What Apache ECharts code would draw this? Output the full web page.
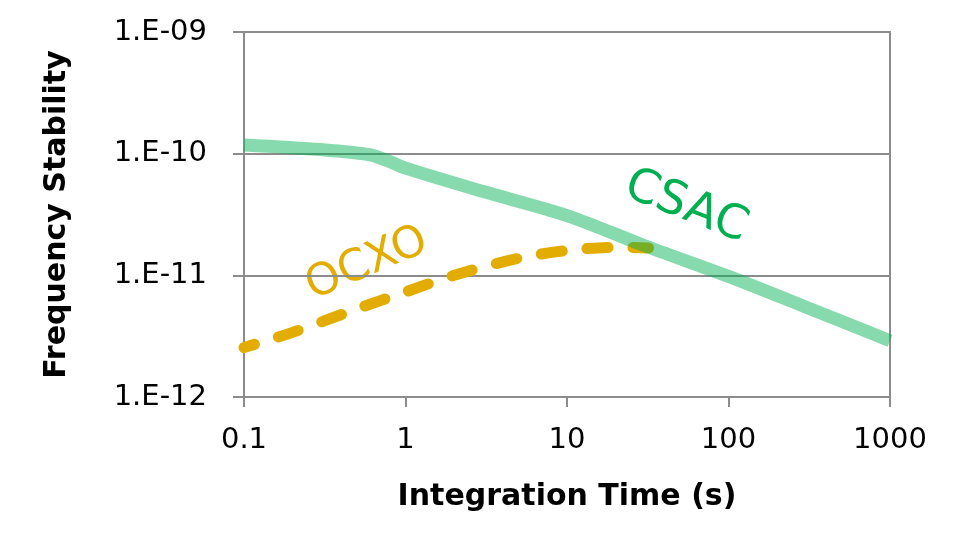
<!DOCTYPE html>
<html>
<head>
<meta charset="utf-8">
<script src="https://cdn.jsdelivr.net/npm/echarts@6/dist/echarts.min.js"></script>
<style>
  html, body { margin: 0; padding: 0; background: #fff; }
  #chart { width: 960px; height: 539px; }
</style>
</head>
<body>
<div id="chart"></div>
<script>
// 数据：积分时间 (s) 与频率稳定度
const csacTime = [0.1, 0.3, 0.6, 0.8, 1, 3, 10, 30, 100, 300, 1000]
const csacValue = [1.18e-10, 1.08e-10, 9.8e-11, 8.6e-11, 7.6e-11, 4.9e-11, 3.1e-11, 1.76e-11, 9.8e-12, 5.5e-12, 2.9e-12]
const ocxoTime = [0.1, 0.2, 0.5, 1, 2, 5, 10, 20, 32]
const ocxoValue = [2.55e-12, 3.4e-12, 5.3e-12, 7.3e-12, 1.0e-11, 1.38e-11, 1.6e-11, 1.7e-11, 1.68e-11]
const xTicks = [0.1, 1, 10, 100, 1000]

const font = '"DejaVu Sans", sans-serif'
const gray = '#8c8c8c'

const pairs = (xs, ys) => xs.map((x, i) => [x, ys[i]])

const chart = echarts.init(document.getElementById('chart'))
const options = {
  animation: false,
  grid: {
    left: 244, right: 70, top: 32, bottom: 142,
    show: true, borderColor: gray, borderWidth: 2
  },
  xAxis: {
    type: 'log',
    logBase: 10,
    min: 0.1,
    max: 1000,
    name: 'Integration Time (s)',
    nameLocation: 'middle',
    nameGap: 85,
    nameTextStyle: { fontFamily: font, fontWeight: 'bold', fontSize: 30, color: '#000' },
    axisLine: { lineStyle: { color: gray, width: 2 } },
    axisTick: { show: true, length: 10, lineStyle: { color: gray, width: 2 } },
    minorTick: { show: false },
    splitLine: { show: false },
    axisLabel: {
      fontFamily: font, fontSize: 29, color: '#000', margin: 29,
      formatter: v => String(xTicks.find(t => Math.abs(Math.log10(t) - Math.log10(v)) < 1e-6) ?? v)
    }
  },
  yAxis: {
    type: 'log',
    logBase: 10,
    min: 1e-12,
    max: 1e-9,
    name: 'Frequency Stability',
    nameLocation: 'middle',
    nameGap: 172,
    nameRotate: 90,
    nameTextStyle: { fontFamily: font, fontWeight: 'bold', fontSize: 30, color: '#000' },
    axisLine: { show: true, lineStyle: { color: gray, width: 2 } },
    axisTick: { show: true, length: 11, lineStyle: { color: gray, width: 2 } },
    splitLine: { show: true, lineStyle: { color: gray, width: 2 } },
    axisLabel: {
      fontFamily: font, fontSize: 29, color: '#000', margin: 37,
      formatter: v => {
        const e = Math.round(Math.log10(v))
        return '1.E' + (e < 0 ? '-' : '+') + String(Math.abs(e)).padStart(2, '0')
      }
    }
  },
  series: [
    {
      name: 'OCXO',
      type: 'line',
      data: pairs(ocxoTime, ocxoValue),
      smooth: 0.3,
      showSymbol: false,
      z: 2,
      lineStyle: { color: '#e2ac00', width: 11, type: [21, 25], dashOffset: 10, cap: 'round' }
    },
    {
      name: 'CSAC',
      type: 'line',
      data: pairs(csacTime, csacValue),
      smooth: 0.3,
      showSymbol: false,
      z: 3,
      lineStyle: { color: '#00b050', opacity: 0.47, width: 13 }
    }
  ],
  graphic: [
    {
      type: 'text', x: 367, y: 264, rotation: 23 * Math.PI / 180,
      style: { text: 'OCXO', fill: '#e2ac00', fontFamily: font, fontSize: 44, align: 'center', verticalAlign: 'middle' }
    },
    {
      type: 'text', x: 686, y: 207, rotation: -21.5 * Math.PI / 180,
      style: { text: 'CSAC', fill: '#00b050', fontFamily: font, fontSize: 47, align: 'center', verticalAlign: 'middle' }
    }
  ]
}
chart.setOption(options)
</script>
</body>
</html>
